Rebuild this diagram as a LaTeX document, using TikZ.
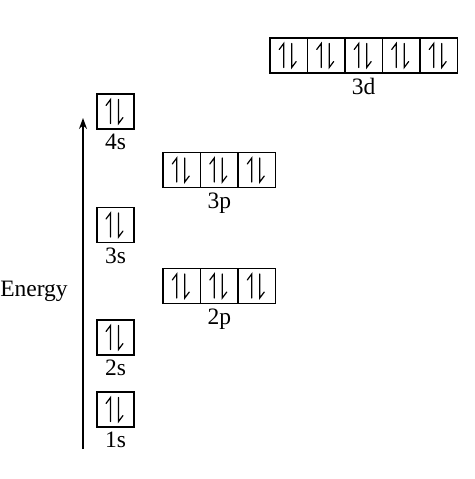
\documentclass[tikz,border=0pt]{standalone}
\usepackage{fontspec}
\setmainfont{Liberation Serif}
\usetikzlibrary{arrows.meta, positioning}

\begin{document}
\begin{tikzpicture}[x=1pt, y=-1pt,
        orb/.style={draw, line width=1.6pt, minimum width=37.5pt, minimum height=35pt, inner sep=0pt, outer sep=0pt,
            path picture={
                \draw[line width=1.2pt, line cap=round]
                    ([xshift=-5pt,yshift=-12pt]path picture bounding box.center) -- ++(0,24pt) -- ++(-4.5pt,-6pt);
                \draw[line width=1.2pt, line cap=round]
                    ([xshift=3pt,yshift=12pt]path picture bounding box.center) -- ++(0,-24pt) -- ++(4.5pt,6pt);
            }},
        lbl/.style={font=\fontsize{23.5}{26}\selectfont, inner sep=0pt}]
        \useasboundingbox (0,0) rectangle (474,479);

        % s orbitals
        \node[orb] (s1) at (115.5,409.5) {};
        \node[orb] (s2) at (115.5,337.5) {};
        \node[orb] (s3) at (115.5,225) {};
        \node[orb] (s4) at (115.5,111.5) {};

        % p orbitals
        \node[orb] (p2a) at (181.8,286) {};
        \node[orb, right=0pt of p2a] (p2b) {};
        \node[orb, right=0pt of p2b] (p2c) {};
        \node[orb] (p3a) at (181.8,170) {};
        \node[orb, right=0pt of p3a] (p3b) {};
        \node[orb, right=0pt of p3b] (p3c) {};

        % d orbitals
        \node[orb] (d3a) at (288.7,55.5) {};
        \node[orb, right=0pt of d3a] (d3b) {};
        \node[orb, right=0pt of d3b] (d3c) {};
        \node[orb, right=0pt of d3c] (d3d) {};
        \node[orb, right=0pt of d3d] (d3e) {};

        % labels
        \node[lbl, below=5pt of s1] (l1s) {1s};
        \node[lbl, below=5pt of s2] (l2s) {2s};
        \node[lbl, below=5pt of s3] (l3s) {3s};
        \node[lbl, below=5pt of s4] (l4s) {4s};
        \node[lbl, below=5pt of p2b] (l2p) {2p};
        \node[lbl, below=5pt of p3b] (l3p) {3p};
        \node[lbl, below=5pt of d3c] (l3d) {3d};
        \node[lbl] (energy) at (34,291) {Energy};

        % energy axis
        \coordinate (ebot) at (83,449);
        \coordinate (etop) at (83,118);
        \draw[line width=1.2pt, -{Stealth[length=11pt,width=8pt]}] (ebot) -- (etop);
    \end{tikzpicture}
\end{document}
